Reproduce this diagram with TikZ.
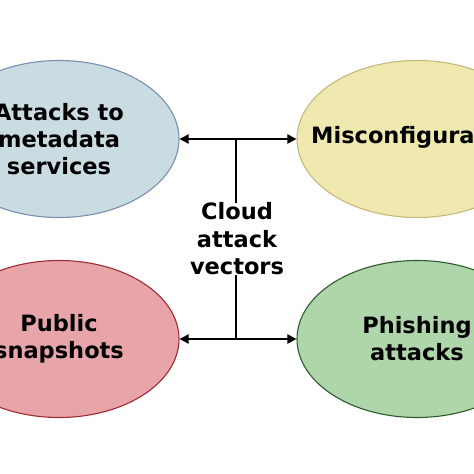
\documentclass[tikz,border=0pt]{standalone}
\usepackage{fontspec}
\setmainfont{DejaVu Sans}
\usetikzlibrary{shapes.geometric,arrows.meta}
\definecolor{tlfill}{HTML}{C8DCE2}
\definecolor{tlline}{HTML}{7B8FB0}
\definecolor{trfill}{HTML}{EFE9AF}
\definecolor{trline}{HTML}{C9B87A}
\definecolor{blfill}{HTML}{E8A5A9}
\definecolor{blline}{HTML}{A02A35}
\definecolor{brfill}{HTML}{AFD5AA}
\definecolor{brline}{HTML}{2E5B2E}
\tikzset{
  bubble/.style={ellipse, minimum width=240pt, minimum height=157pt, line width=1.1pt, inner sep=0pt,
    font=\fontsize{22.5}{27}\selectfont\bfseries, align=center, text=black},
  label/.style={font=\fontsize{22.5}{27.5}\selectfont\bfseries, align=center, text=black, inner sep=0pt},
  conn/.style={line width=2pt, black},
  arr/.style={conn, {Triangle[length=9pt,width=9pt]}-{Triangle[length=9pt,width=9pt]}}
}
\begin{document}
\begin{tikzpicture}[x=1pt,y=-1pt]
\useasboundingbox (0,0) rectangle (474,474);
\clip (0,0) rectangle (474,474);
\fill[white] (0,0) rectangle (474,474);
\node[bubble, fill=tlfill, draw=tlline] (meta) at (59,139) {Attacks to\\metadata\\services};
\node[bubble, fill=trfill, draw=trline] (mis) at (417,139) {};
\node[label, anchor=west] (mistext) at (311,137) {Misconfigura};
\node[bubble, fill=blfill, draw=blline] (pub) at (59,339) {Public\\snapshots};
\node[bubble, fill=brfill, draw=brline] (phi) at (417,339) {Phishing\\attacks};
\node[label] (cloud) at (237,239) {Cloud\\attack\\vectors};
\coordinate (jt) at (236,139);
\coordinate (jb) at (236,339);
\draw[arr] (meta.east) -- (mis.west);
\draw[arr] (pub.east) -- (phi.west);
\draw[conn] (jt) -- (cloud.north -| jt);
\draw[conn] (jb) -- (cloud.south -| jb);
\end{tikzpicture}
\end{document}
